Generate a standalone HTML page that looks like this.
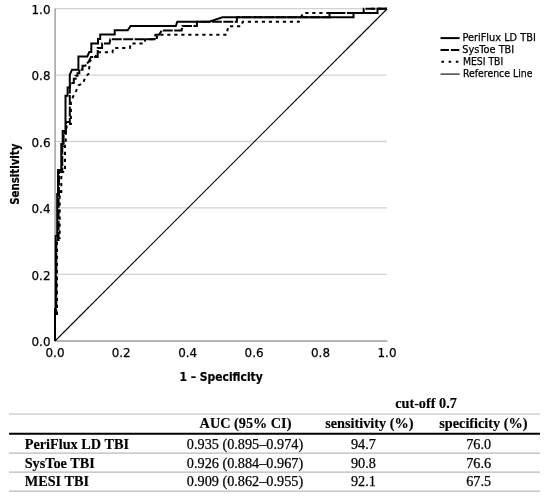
<!DOCTYPE html>
<html><head><meta charset="utf-8">
<style>
html,body{margin:0;padding:0;background:#fff;}
body{width:550px;height:498px;position:relative;overflow:hidden;}
svg{position:absolute;left:0;top:0;}
.ax{font-family:"DejaVu Sans","Liberation Sans",sans-serif;font-size:13px;fill:#000;stroke:#000;stroke-width:0.25px;}
.axb{font-family:"DejaVu Sans Condensed","DejaVu Sans","Liberation Sans",sans-serif;font-size:12.3px;font-weight:bold;fill:#000;stroke:#000;stroke-width:0.2px;}
.lg{font-family:"DejaVu Sans","Liberation Sans",sans-serif;font-size:10px;fill:#000;stroke:#000;stroke-width:0.25px;}
.t{-webkit-text-stroke:0.25px #000;position:absolute;font-family:"Liberation Serif",serif;font-size:14.25px;line-height:16px;color:#000;white-space:nowrap;}
.b{font-weight:bold;-webkit-text-stroke:0.15px #000;}
.c{transform:translateX(-50%);}
.hl{position:absolute;left:9px;width:531px;height:1px;background:#c4c4c4;}
</style></head><body>
<svg width="550" height="498" viewBox="0 0 550 498">
<g stroke="#d2d2d2" stroke-width="1.3" fill="none">
<path d="M55,8.7H387M55,75.1H387M55,141.5H387M55,207.9H387M55,274.4H387"/>
</g>
<path d="M55.1,8.5V341H387.3" stroke="#9c9c9c" stroke-width="1.4" fill="none"/>
<path d="M55,341L387,9" stroke="#000" stroke-width="1.1" fill="none"/>
<g fill="none" stroke="#000" stroke-width="2" stroke-linejoin="miter">
<path id="dot" stroke-dasharray="3.2 3.8" d="M55,341V315H57V238H59.7V192H61.3V172H65V143H65.8V131H66.6V124H70.9V101.6L73.5,95.8L76,91.1L78.5,85.3L83.3,83.1L85.1,77.3L88.4,74L89.3,67.3L89.7,61.3L92.9,58.5L97.7,54.4V52.2H112.5L113.2,47.9H129.9L130.6,43.5H144.5L145.2,39.2H156.5L157.5,34.8H226.7L228.2,26.2H241.3L242.7,21.8H298.8L303.2,12.9H372V8.7H387"/>
<path id="dash" stroke-dasharray="9.9 1.5" d="M55,341V312H56.3V240H58.6V196H59V172H62.3V146H63.6V133H66V122H69.8V87L70.5,83.1H73.8V78.7H75.6V75.8H77.5V73.3H79.3V69.7H82.5V65.7H85.3L88.9,61.3L90.9,56.9H97.7V48H102.1V43.5H109.5L110.3,39.2H154.6L155.4,34.8H159L161.9,30.4H181.6L182.4,26.1H196.9V21.8H236.9V17.3H329.5"/>
<path stroke-dasharray="9.9 1.5" d="M329.5,18.3V12.9H363.7V8.7H387"/>
<path id="solid" d="M55,341V309H55.7V236H57.2V194H58V170H61.3V144H62.7V131H65.5V95.8H67.6V87.5H69.8V74.7L72,69.7H78.4V56.4H87.3L89.3,52H91.3V43.4H98V39H100.2V34.6H114.7V30.3H127.7L130.6,26H175.8L177.3,21.7H209.3L222.4,17.3H353.5V12.9H377.5V8.7H387"/>
</g>
<!-- y ticks -->
<g class="ax">
<text x="31.5" y="14" textLength="19" lengthAdjust="spacingAndGlyphs">1.0</text>
<text x="31.5" y="80.3" textLength="19" lengthAdjust="spacingAndGlyphs">0.8</text>
<text x="31.5" y="146.7" textLength="19" lengthAdjust="spacingAndGlyphs">0.6</text>
<text x="31.5" y="213.1" textLength="19" lengthAdjust="spacingAndGlyphs">0.4</text>
<text x="31.5" y="279.6" textLength="19" lengthAdjust="spacingAndGlyphs">0.2</text>
<text x="31.5" y="346" textLength="19" lengthAdjust="spacingAndGlyphs">0.0</text>
</g>
<g class="ax">
<text x="45.5" y="357.3" textLength="19" lengthAdjust="spacingAndGlyphs">0.0</text>
<text x="111.7" y="357.3" textLength="19" lengthAdjust="spacingAndGlyphs">0.2</text>
<text x="178.2" y="357.3" textLength="19" lengthAdjust="spacingAndGlyphs">0.4</text>
<text x="244.6" y="357.3" textLength="19" lengthAdjust="spacingAndGlyphs">0.6</text>
<text x="311" y="357.3" textLength="19" lengthAdjust="spacingAndGlyphs">0.8</text>
<text x="377.5" y="357.3" textLength="19" lengthAdjust="spacingAndGlyphs">1.0</text>
</g>
<text class="axb" x="179.5" y="381.1" textLength="83.2" lengthAdjust="spacingAndGlyphs">1 – Specificity</text>
<text class="axb" transform="translate(18.6,204.8) rotate(-90)" textLength="61.2" lengthAdjust="spacingAndGlyphs">Sensitivity</text>
<!-- legend -->
<g fill="none" stroke="#000">
<path d="M440.5,38.1H459.6" stroke-width="2"/>
<path d="M440.5,50.1H459.6" stroke-width="2" stroke-dasharray="8.4 2"/>
<path d="M441.4,61.8H459.6" stroke-width="2" stroke-dasharray="2.6 4.6"/>
<path d="M440.5,74.1H459.6" stroke-width="1.1"/>
</g>
<g class="lg">
<text x="462.4" y="41.3" textLength="73.4" lengthAdjust="spacingAndGlyphs">PeriFlux LD TBI</text>
<text x="462.2" y="53.4" textLength="52" lengthAdjust="spacingAndGlyphs">SysToe TBI</text>
<text x="462.9" y="65.4" textLength="40.3" lengthAdjust="spacingAndGlyphs">MESI TBI</text>
<text x="462.9" y="77.4" textLength="69.6" lengthAdjust="spacingAndGlyphs">Reference Line</text>
</g>
<g fill="none" stroke="#b9b9b9" stroke-width="1.2">
<path d="M9,414H540M9,453.2H540M9,472.1H540M9,491.1H540"/>
</g>
<path d="M9,433.7H540" stroke="#000" stroke-width="2.1" fill="none"/>
</svg>
<!-- table -->

<div class="t b c" style="left:426px;top:395px">cut-off 0.7</div>
<div class="t b c" style="left:245.5px;top:415px">AUC (95% CI)</div>
<div class="t b c" style="left:369.3px;top:415px">sensitivity (%)</div>
<div class="t b c" style="left:483.4px;top:415px">specificity (%)</div>

<div class="t b" style="left:24.7px;top:436px">PeriFlux LD TBI</div>
<div class="t b" style="left:24.7px;top:454.6px">SysToe TBI</div>
<div class="t b" style="left:24.7px;top:473.2px">MESI TBI</div>

<div class="t c" style="left:245px;top:436px">0.935 (0.895–0.974)</div>
<div class="t c" style="left:245px;top:454.6px">0.926 (0.884–0.967)</div>
<div class="t c" style="left:245px;top:473.2px">0.909 (0.862–0.955)</div>

<div class="t c" style="left:363.4px;top:436px">94.7</div>
<div class="t c" style="left:363.4px;top:454.6px">90.8</div>
<div class="t c" style="left:363.4px;top:473.2px">92.1</div>

<div class="t c" style="left:478.7px;top:436px">76.0</div>
<div class="t c" style="left:478.7px;top:454.6px">76.6</div>
<div class="t c" style="left:478.7px;top:473.2px">67.5</div>
</body></html>
